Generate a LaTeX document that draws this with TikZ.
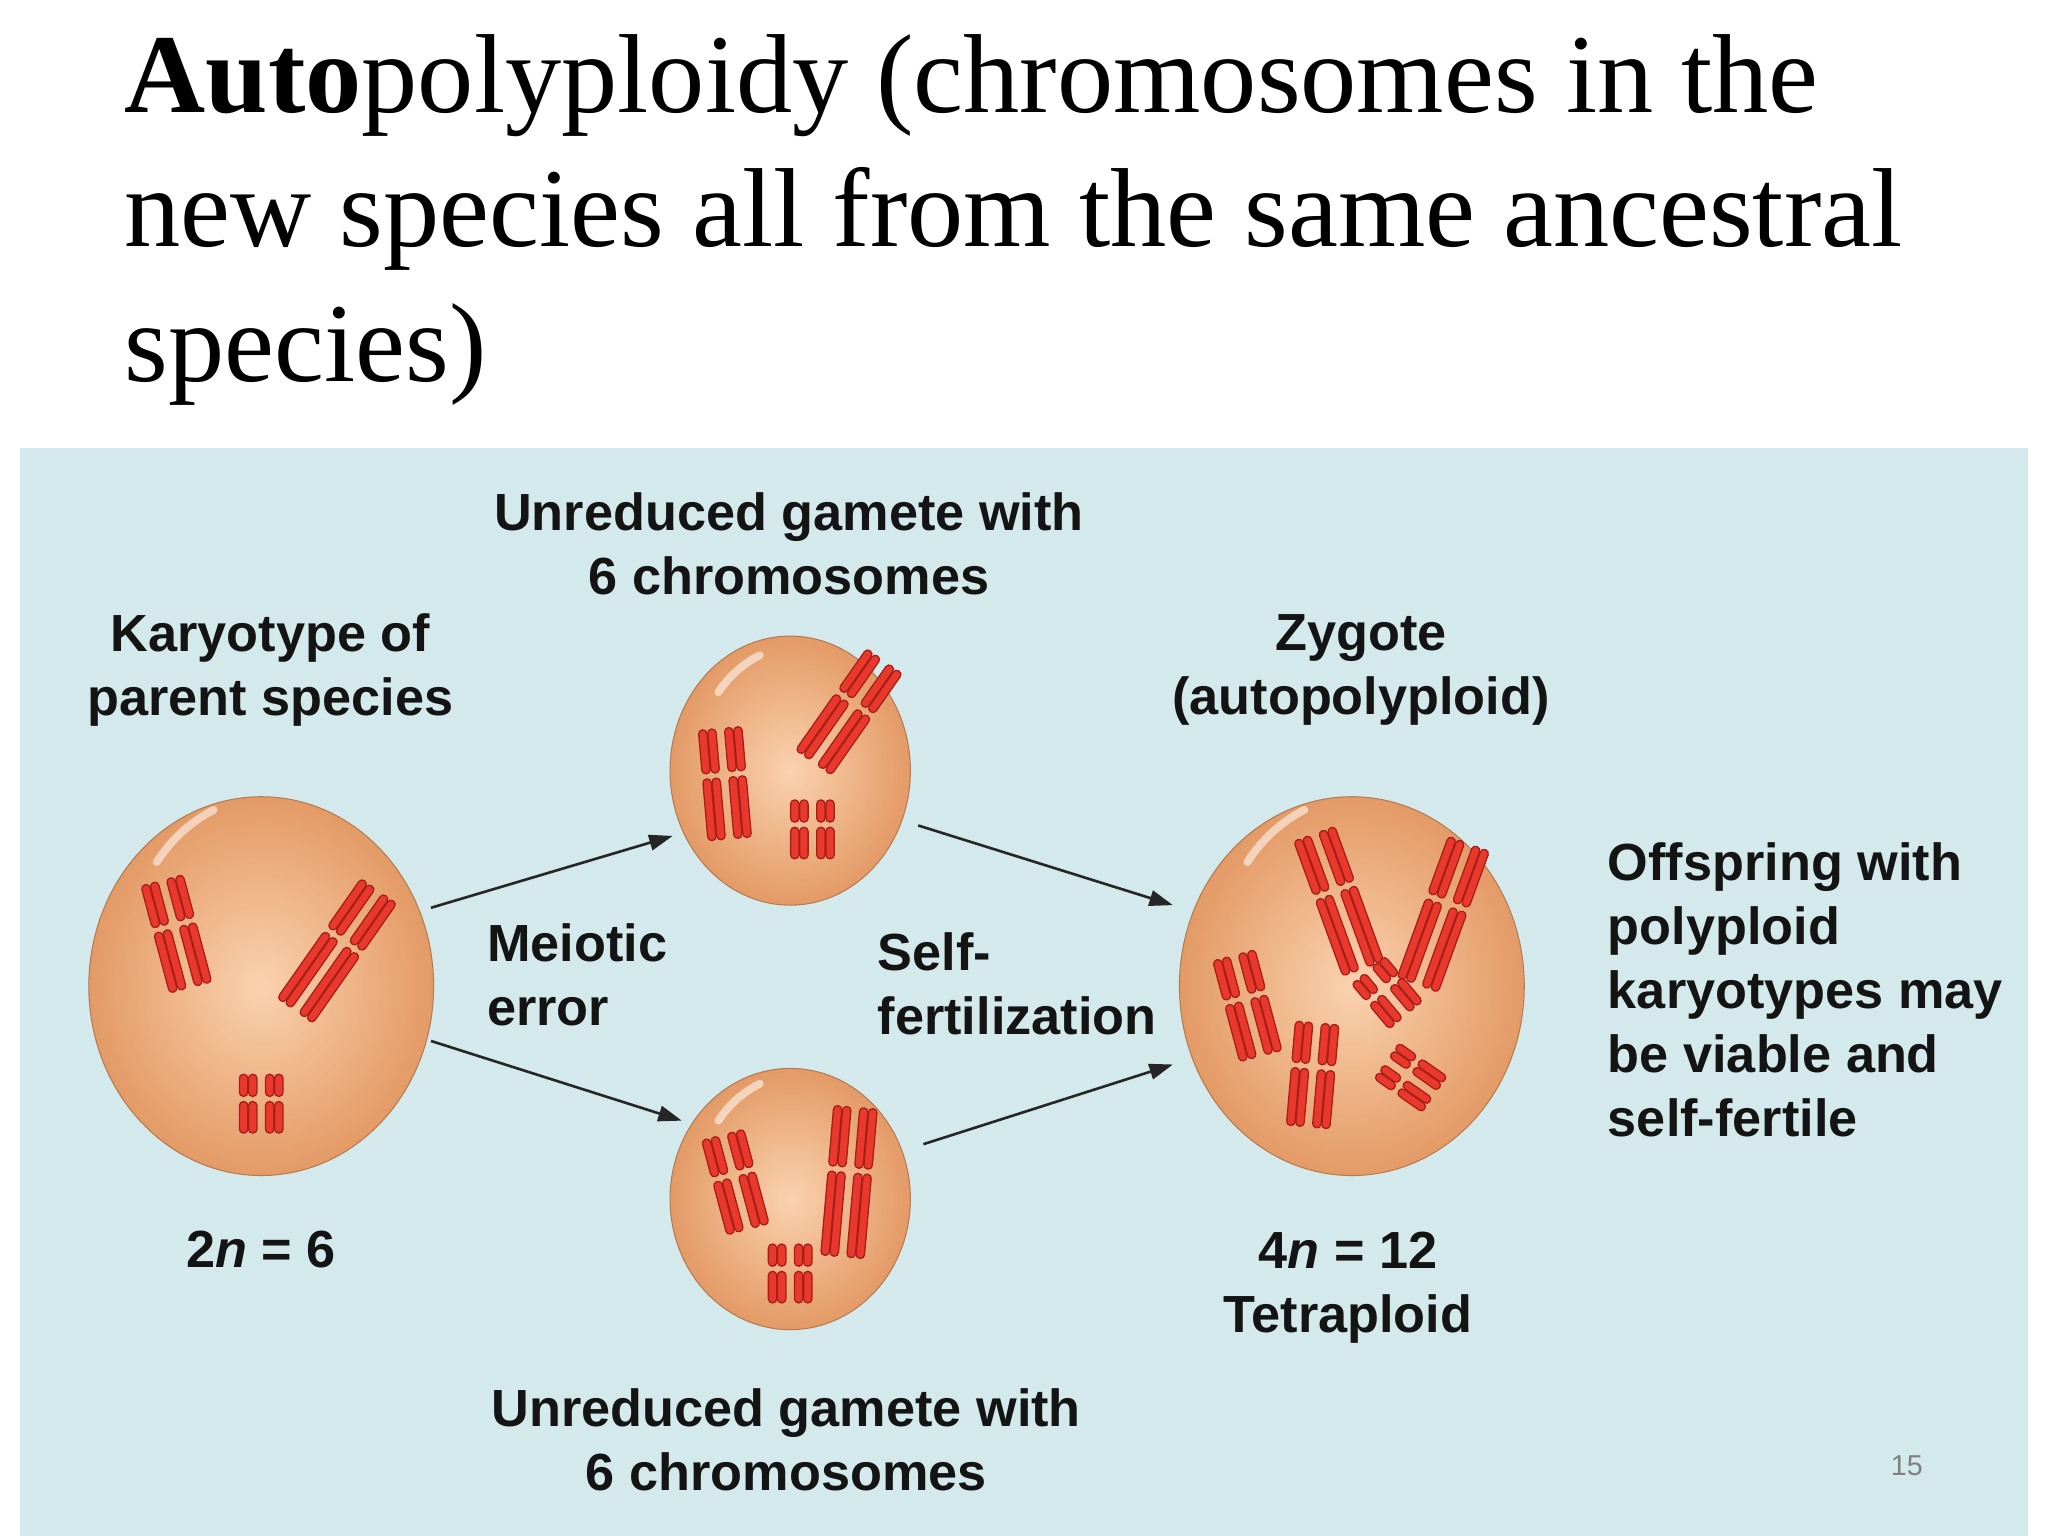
\documentclass[tikz,border=0pt]{standalone}
\usepackage{fontspec}
\setmainfont{Liberation Serif}
\newfontfamily\lab{Liberation Sans}
\usetikzlibrary{shapes.geometric,arrows.meta}
\definecolor{panel}{HTML}{D3E9EC}
\definecolor{chrf}{HTML}{E8392C}
\definecolor{chrd}{HTML}{A81E1A}
\definecolor{cellin}{HTML}{FAD2AE}
\definecolor{cellout}{HTML}{E39A66}
\newcommand\mychrom[4]{%
 \begin{scope}[shift={(#1,#2)},rotate=#3]
  \pgfmathsetmacro\hl{#4/2}\pgfmathsetmacro\cc{-#4/2+0.42*#4}
  \foreach \s in {-3.5,3.5}{%
   \draw[chr] (\s-3.2,-\hl) rectangle (\s+3.2,\cc-2);
   \draw[chr] (\s-3.2,\cc+2) rectangle (\s+3.2,\hl);}
 \end{scope}}
\newcommand\mypair[4]{%
 \begin{scope}[shift={(#1,#2)},rotate=#3]
  \mychrom{-10}{0}{0}{#4}\mychrom{10}{0}{0}{#4}
 \end{scope}}
\tikzset{
 chr/.style={fill=chrf,draw=chrd,line width=0.5pt,rounded corners=1.5pt},
 cell/.style={ellipse,inner sep=0pt,draw=cellout!80!black,line width=0.4pt,
   inner color=cellin,outer color=cellout},
 lbl/.style={font=\lab\bfseries\fontsize{20}{24.5}\selectfont,align=center,text=black!92},
 arr/.style={-{Triangle[length=9pt,width=6pt]},line width=1pt,black!85},
 hi/.style={white,opacity=0.55,line width=3pt,line cap=round}
}
\begin{document}
\begin{tikzpicture}[x=0.5pt,y=-0.5pt]
\useasboundingbox (0,0) rectangle (1568,1176);
\fill[white] (0,0) rectangle (1568,1176);
\node[anchor=north west,align=left,inner sep=0pt,font=\fontsize{43}{51.5}\selectfont] (title) at (95,26)
 {\textbf{Auto}polyploidy (chromosomes in the\\new species all from the same ancestral\\species)};
\fill[panel] (15,343) rectangle (1553,1176);
% cells
\node[cell,minimum width=132,minimum height=145] (p) at (200,755) {};
\node[cell,minimum width=92,minimum height=103] (g1) at (605,590) {};
\node[cell,minimum width=92,minimum height=100] (g2) at (605,918) {};
\node[cell,minimum width=132,minimum height=145] (z) at (1035,755) {};
\draw[hi] (120,660) arc[start angle=215,end angle=245,x radius=110,y radius=120];
\draw[hi] (550,530) arc[start angle=215,end angle=245,x radius=80,y radius=85];
\draw[hi] (550,858) arc[start angle=215,end angle=245,x radius=80,y radius=85];
\draw[hi] (955,660) arc[start angle=215,end angle=245,x radius=110,y radius=120];
% chromosomes
\mypair{135}{715}{15}{85}\mypair{258}{728}{-35}{112}\mypair{200}{845}{0}{45}
\mypair{555}{600}{5}{85}\mypair{650}{545}{-35}{95}\mypair{622}{635}{0}{45}
\mypair{563}{905}{15}{75}\mypair{650}{905}{-5}{115}\mypair{605}{975}{0}{45}
\mypair{1025}{690}{20}{110}\mypair{1105}{700}{-20}{115}\mypair{955}{770}{15}{80}
\mypair{1062}{760}{40}{45}\mypair{1005}{823}{-5}{80}\mypair{1080}{825}{55}{45}
% arrows
\coordinate (a1s) at (330,695); \coordinate (a1e) at (515,640);
\coordinate (a2s) at (330,797); \coordinate (a2e) at (522,858);
\coordinate (a3s) at (703,632); \coordinate (a3e) at (898,693);
\coordinate (a4s) at (707,876); \coordinate (a4e) at (898,815);
\draw[arr] (a1s) -- (a1e); \draw[arr] (a2s) -- (a2e);
\draw[arr] (a3s) -- (a3e); \draw[arr] (a4s) -- (a4e);
% labels
\node[lbl] (k) at (207,513) {Karyotype of\\parent species};
\node[lbl] (n1) at (200,957) {2\textit{n} = 6};
\node[lbl] (u1) at (604,416) {Unreduced gamete with\\6 chromosomes};
\node[lbl] (u2) at (602,1102) {Unreduced gamete with\\6 chromosomes};
\node[lbl,align=left,anchor=west] (m) at (366,746) {Meiotic\\error};
\node[lbl,align=left,anchor=west] (sf) at (665,753) {Self-\\fertilization};
\node[lbl] (zy) at (1042,513) {Zygote\\(autopolyploid)};
\node[lbl] (t) at (1032,986) {4\textit{n} = 12\\Tetraploid};
\node[lbl,align=left,anchor=west] (o) at (1224,758) {Offspring with\\polyploid\\karyotypes may\\be viable and\\self-fertile};
\node[font=\lab\fontsize{11}{13}\selectfont,text=black!50] (pg) at (1460,1122) {15};
\end{tikzpicture}
\end{document}
